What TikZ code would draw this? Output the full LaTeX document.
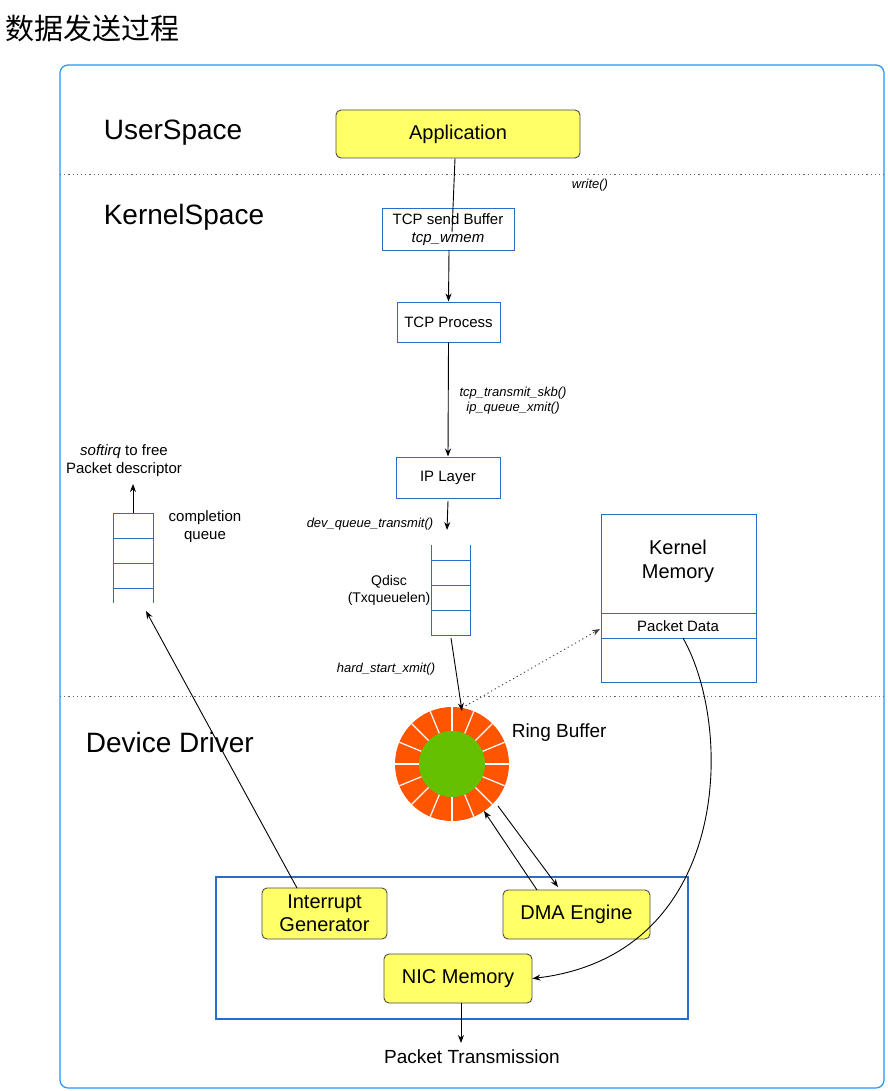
\documentclass[tikz,border=0pt]{standalone}
\usepackage{fontspec}
\setmainfont{Liberation Sans}
\newfontfamily\cjk{Noto Sans CJK SC}
\usetikzlibrary{arrows.meta,calc}
\definecolor{bl}{RGB}{40,110,200}
\definecolor{obl}{RGB}{30,150,250}
\definecolor{yel}{RGB}{255,255,102}
\definecolor{org}{RGB}{255,85,0}
\definecolor{grn}{RGB}{100,192,0}
\begin{document}
\begin{tikzpicture}[x=1pt,y=-1pt,>={Stealth[length=8pt,width=6pt]},line width=0.9pt,
 box/.style={draw=bl,line width=1pt,font=\fontsize{15}{18}\selectfont,inner sep=0},
 ybox/.style={draw=black!70,fill=yel,rounded corners=5pt,font=\fontsize{20}{23}\selectfont,align=center,inner sep=0},
 lbl/.style={font=\fontsize{13}{15}\selectfont\itshape},
 big/.style={font=\fontsize{28}{32}\selectfont,anchor=west},
 dots/.style={dash pattern=on 1.2pt off 3pt,black!60,line width=0.9pt},
 q/.style={draw=bl,line width=1pt}]
\useasboundingbox (0,0) rectangle (887,1091);
\node[anchor=west,font=\cjk\fontsize{29}{32}\selectfont] (title) at (2,28) {数据发送过程};
\draw[obl,line width=1.2pt,rounded corners=8pt] (60,65) rectangle (884,1088);
\draw[dots] (60,174) -- (884,174);
\draw[dots] (60,696) -- (884,696);
\node[big] (us) at (100,133) {UserSpace};
\node[big] (ks) at (100,217) {KernelSpace};
\node[big] (dd) at (82,742) {Device Driver};
\node[ybox,minimum width=244,minimum height=48] (app) at (458,134) {Application};
\node[lbl] (w) at (590,185) {write()};
\node[box,minimum width=132,minimum height=41,align=center] (buf) at (448,229.5) {TCP send Buffer\\\textit{tcp\_wmem}};
\node[box,minimum width=103,minimum height=40] (tcp) at (448.5,322) {TCP Process};
\node[box,minimum width=104,minimum height=41] (ip) at (448,477.5) {IP Layer};
\node[lbl,align=center] (tl) at (513,401) {tcp\_transmit\_skb()\\ip\_queue\_xmit()};
\node[lbl,anchor=east] (dq) at (437,524) {dev\_queue\_transmit()};
\node[lbl] (hs) at (386,669) {hard\_start\_xmit()};
\coordinate (ain) at (452,232);
\draw (app.south -| 455,0) -- (ain);
\draw[->] (449,250) -- (tcp.north);
\draw[->] (tcp.south) -- (ip.north);
\draw[->] (448,501) -- (447,530);
% qdisc
\coordinate (qd) at (450,590);
\draw[q] (431,545) -- (431,635) -- (470,635) -- (470,545);
\foreach \y in {560,585,610} \draw[q] (431,\y) -- (470,\y);
\node[align=center,font=\fontsize{14}{17}\selectfont] (ql) at (389,590) {Qdisc\\(Txqueuelen)};
% completion queue
\coordinate (cq) at (133,513);
\draw[q] (113,603) -- (113,513) -- (153,513) -- (153,603);
\foreach \y in {538,563,588} \draw[q] (113,\y) -- (153,\y);
\node[align=center,font=\fontsize{15}{18}\selectfont] (cl) at (205,527) {completion\\queue};
\node[align=center,font=\fontsize{15}{18}\selectfont] (sq) at (124,461) {\textit{softirq} to free\\Packet descriptor};
\draw[->] (cq) -- (133,484);
% kernel memory
\node[draw=bl,line width=1pt,minimum width=155,minimum height=168,inner sep=0] (km) at (678.5,598) {};
\draw[bl,line width=1pt] (601,613) -- (756,613) (601,638) -- (756,638);
\node[align=center,font=\fontsize{20}{24}\selectfont] (kmt) at (678,561) {Kernel\\Memory};
\node[font=\fontsize{15}{18}\selectfont] (pd) at (678,626) {Packet Data};
% ring
\coordinate (rc) at (452,764);
\fill[org] (rc) circle (57);
\foreach \a in {0,22.5,...,337.5} \draw[white,line width=1.2pt] ($(rc)+(\a+90:33)$) -- ($(rc)+(\a+90:57)$);
\fill[grn] (rc) circle (33);
\node[font=\fontsize{19}{22}\selectfont,anchor=west] (rb) at (508,733) {Ring Buffer};
\draw[->] (451,638) -- (462,711);
\draw[->,dots,black!75] (462,708) -- (600,629);
% NIC
\node[draw=bl,line width=1.2pt,minimum width=472,minimum height=142,inner sep=0] (nic) at (452,948) {};
\node[ybox,minimum width=125,minimum height=51] (ig) at (324.5,913.5) {Interrupt\\Generator};
\node[ybox,minimum width=147,minimum height=49] (dma) at (576.5,914.5) {DMA Engine};
\node[ybox,minimum width=148,minimum height=49] (nm) at (458,978.5) {NIC Memory};
\draw[->] (297,888) -- (146,611);
\draw[->] (537,890) -- (484,811);
\draw[->] (498,806) -- (558,887);
\draw[->] (683,638) .. controls (735,730) and (730,955) .. (nm.east);
\draw[->] (461,1003) -- (461,1043);
\node[font=\fontsize{19}{22}\selectfont] (pt) at (472,1057) {Packet Transmission};
\end{tikzpicture}
\end{document}
